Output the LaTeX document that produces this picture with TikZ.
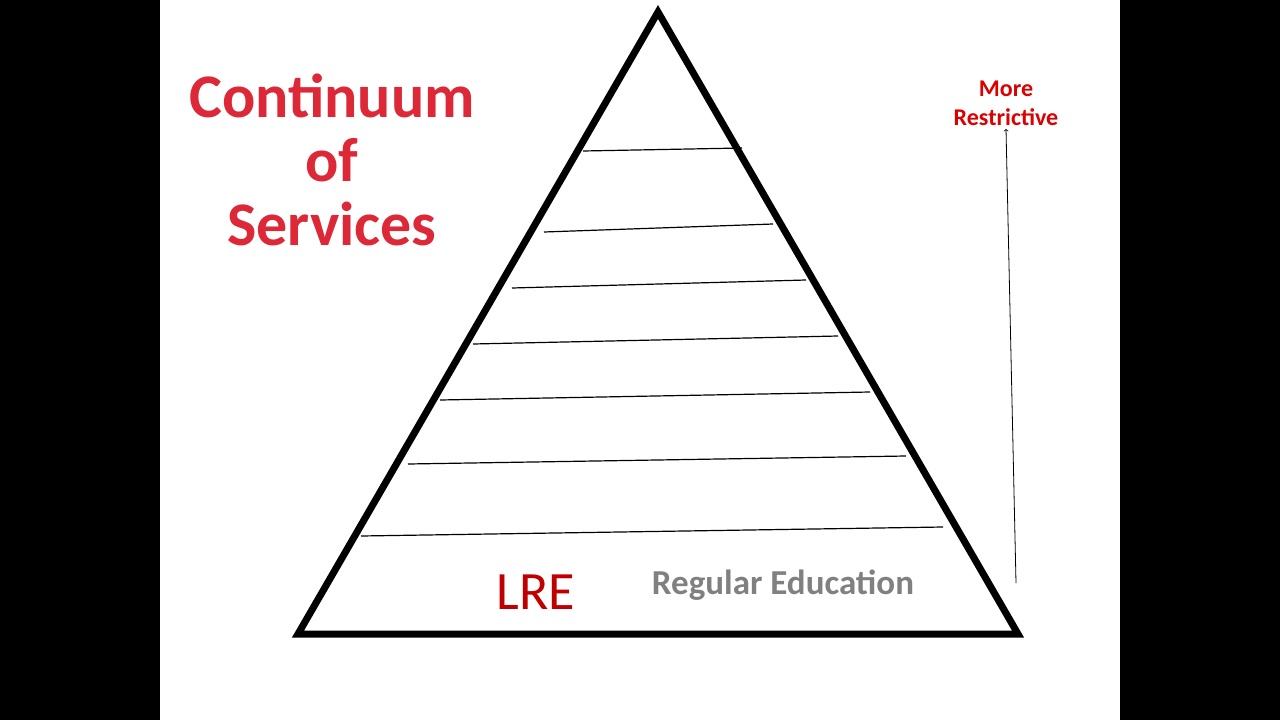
\documentclass[tikz,border=0pt]{standalone}
\usepackage{fontspec}
\setmainfont{Carlito}
\begin{document}
\begin{tikzpicture}[x=1pt,y=-1pt,
  rung/.style={line width=1.2pt},
  ttl/.style={font=\bfseries\fontsize{62}{64}\selectfont, align=center}]
\useasboundingbox (0,0) rectangle (1280,720);
\fill[black] (0,0) rectangle (160,720);
\fill[black] (1120,0) rectangle (1280,720);
\fill[white] (160,0) rectangle (1120,720);
\coordinate (A) at (658,12);
\coordinate (B) at (298,634);
\coordinate (C) at (1018,634);
\draw[line width=7pt, line join=miter] (A) -- (B) -- (C) -- cycle;
\foreach \xa/\ya/\xb/\yb [count=\i] in {583/151/742/148,544/232/773/224,512/288/806/280,473/344/838/336,440/400/870/392,408/464/906/456,361/536/943/527}{
  \coordinate (l\i) at (\xa,\ya); \coordinate (r\i) at (\xb,\yb);
  \draw[rung] (l\i) -- (r\i);}
\node[ttl, text={rgb,255:red,220;green,40;blue,55}] (title) at (332,160) {Continuum\\of\\Services};
\node[text={rgb,255:red,220;green,0;blue,0}, font=\bfseries\fontsize{24}{29}\selectfont, align=center] (mr) at (1006,103) {More\\Restrictive};
\coordinate (s) at (1016,583);
\draw[->, line width=0.8pt] (s) -- (mr.south);
\node[text={rgb,255:red,192;green,0;blue,0}, font=\fontsize{54}{60}\selectfont] (lre) at (536,592) {LRE};
\node[text=gray, font=\bfseries\fontsize{35}{40}\selectfont] (reg) at (783,585) {Regular Education};
\end{tikzpicture}
\end{document}
